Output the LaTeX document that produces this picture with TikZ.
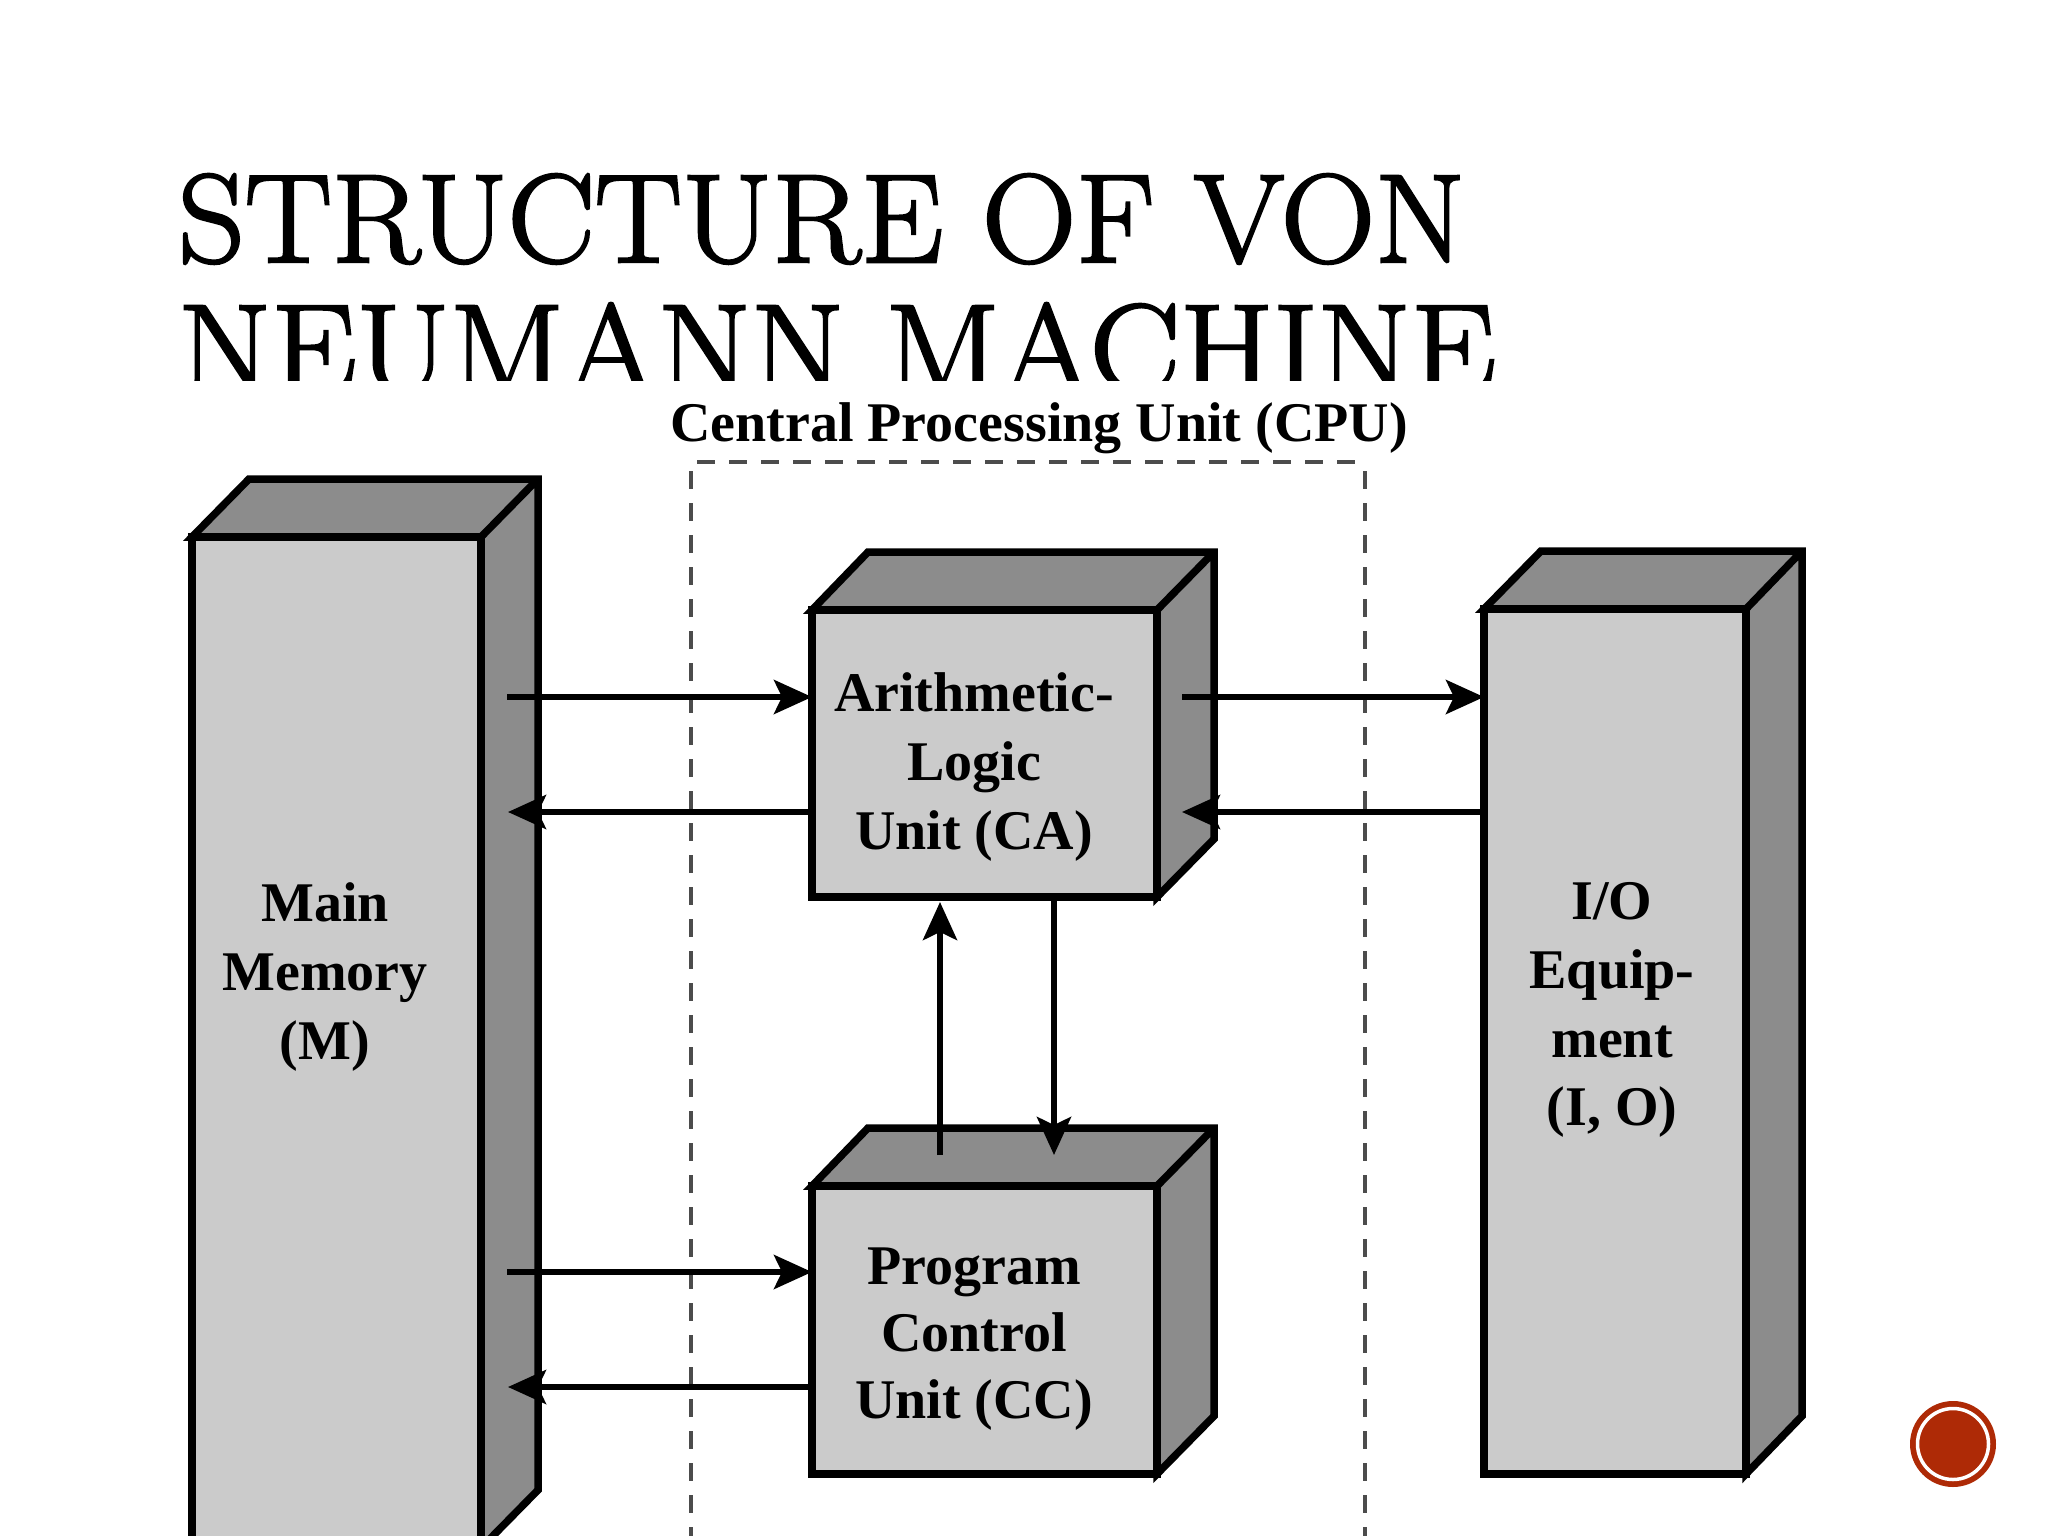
\documentclass[tikz,border=0pt]{standalone}
\usepackage{fontspec}
\newfontfamily\lblfont{Liberation Serif}
\newfontfamily\ttlfont{Latin Modern Roman}[FakeBold=2]
\usetikzlibrary{arrows.meta,calc}
\definecolor{frontgray}{HTML}{CBCBCB}
\definecolor{sidegray}{HTML}{8C8C8C}
\definecolor{badge}{HTML}{AE2A06}
\tikzset{
  front/.style={draw=black,fill=frontgray,line width=7.5pt,rectangle,inner sep=0pt,outer sep=0pt,minimum width=#1},
  side/.style={draw=black,fill=sidegray,line width=7.5pt,line join=miter},
  lbl/.style={font=\lblfont\bfseries\fontsize{56}{69}\selectfont,align=center,inner sep=0pt,text=black},
  arr/.style={line width=6pt,-{Stealth[length=38pt,width=34pt,inset=8pt]}},
  ttl/.style={font=\ttlfont\fontsize{126}{126}\selectfont,anchor=base west,inner sep=0pt,text=black},
  dashln/.style={draw=black!70,dash pattern=on 18pt off 14pt,line width=4.5pt}
}
\begin{document}
\begin{tikzpicture}[x=1pt,y=-1pt]
\useasboundingbox (0,0) rectangle (2048,1536);
\clip (0,0) rectangle (2048,1536);
% title
\begin{scope}
\clip (0,0) rectangle (2048,380);
\node[ttl] (t1) at (178,262) {\scalebox{1.035}[1]{STRUCTURE OF VON}};
\node[ttl] (t2) at (178,392) {\scalebox{1.07}[1]{NEUMANN MACHINE}};
\end{scope}
% CPU
\node[font=\lblfont\bfseries\fontsize{56}{60}\selectfont,anchor=base,inner sep=0pt,text=black] (cpu) at (1039,441) {Central Processing Unit (CPU)};
\draw[dashln] (697,462) -- (1365,462);
\draw[dashln] (691,471) -- (691,1540);
\draw[dashln] (1365,471) -- (1365,1540);
% main memory
\draw[side] (192,537) -- (249,479) -- (538,479) -- (538,1490) -- (481,1548) -- (481,537) -- cycle (481,537) -- (538,479);
\node[front=289pt,minimum height=1011pt,anchor=north west] (mem) at (192,537) {};
\node[lbl] (memt) at (325,977) {Main\\Memory\\(M)};
% ALU
\draw[side] (812,610) -- (868,552) -- (1214,552) -- (1214,839) -- (1157,897) -- (1157,610) -- cycle (1157,610) -- (1214,552);
\node[front=345pt,minimum height=287pt,anchor=north west] (alu) at (812,610) {};
\node[lbl] (alut) at (974,767) {Arithmetic-\\Logic\\Unit (CA)};
% PCU
\draw[side] (812,1186) -- (868,1128) -- (1214,1128) -- (1214,1416) -- (1157,1474) -- (1157,1186) -- cycle (1157,1186) -- (1214,1128);
\node[front=345pt,minimum height=288pt,anchor=north west] (pcu) at (812,1186) {};
\node[lbl] (pcut) at (974,1339) {Program\\[-2pt]Control\\[-2pt]Unit (CC)};
% IO
\draw[side] (1484,609) -- (1541,551) -- (1802,551) -- (1802,1416) -- (1746,1474) -- (1746,609) -- cycle (1746,609) -- (1802,551);
\node[front=262pt,minimum height=865pt,anchor=north west] (io) at (1484,609) {};
\node[lbl] (iot) at (1612,1010) {I/O\\Equip-\\ment\\[-1pt](I, O)};
% connector ends
\coordinate (m1) at (507,697);
\coordinate (m2) at (508,812);
\coordinate (m3) at (507,1272);
\coordinate (m4) at (508,1387);
\coordinate (a1) at (1182,697);
\coordinate (a2) at (1182,812);
\coordinate (c1) at (940,1155);
\coordinate (c2) at (1054,1155);
\draw[arr] (m1) -- (m1 -| alu.west);
\draw[arr] (m2 -| alu.west) -- (m2);
\draw[arr] (m3) -- (m3 -| pcu.west);
\draw[arr] (m4 -| pcu.west) -- (m4);
\draw[arr] (a1) -- (a1 -| io.west);
\draw[arr] (a2 -| io.west) -- (a2);
\draw[arr] (c1) -- ($(c1 |- alu.south)+(0,5)$);
\draw[arr] (c2 |- alu.south) -- (c2);
% badge
\node[circle,fill=badge,minimum size=86pt,inner sep=0pt] (b) at (1953,1444) {};
\node[circle,draw=white,line width=3.5pt,minimum size=71pt,inner sep=0pt] (br) at (b) {};
\end{tikzpicture}
\end{document}
